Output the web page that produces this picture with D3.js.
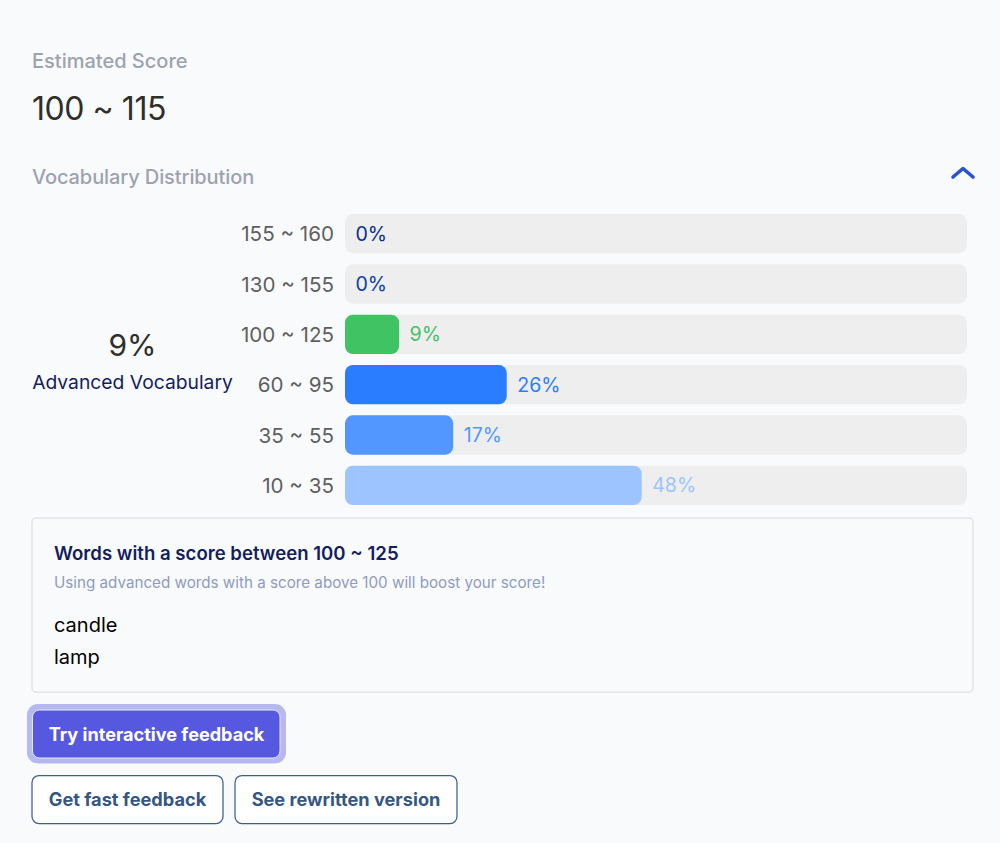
<!DOCTYPE html>
<html>
<head>
<meta charset="utf-8">
<script src="https://d3js.org/d3.v7.min.js"></script>
<style>
html, body { margin: 0; padding: 0; background: #f9fafc; }
svg { display: block; font-family: Inter, sans-serif; }
</style>
</head>
<body>
<div id="chart"></div>
<script>
const ranges = ["155 ~ 160", "130 ~ 155", "100 ~ 125", "60 ~ 95", "35 ~ 55", "10 ~ 35"];
const shares = [0, 0, 8.7, 26, 17.4, 47.7];
const percentLabels = ["0%", "0%", "9%", "26%", "17%", "48%"];
const barColors = ["#0a2f8a", "#0a3fa0", "#40c463", "#2a7dff", "#5297ff", "#9dc4ff"];
const words = ["candle", "lamp"];

const svg = d3.select("#chart").append("svg")
	.attr("width", 1000)
	.attr("height", 843);

const x = d3.scaleLinear().domain([0, 100]).range([345, 967]);
const y = d3.scaleBand().domain(ranges).range([214, 505]).paddingInner(0.218);

function label(txt, px, py, size, weight, color, anchor)
{
	return svg.append("text")
		.attr("x", px)
		.attr("y", py)
		.attr("font-size", size)
		.attr("font-weight", weight)
		.attr("fill", color)
		.attr("text-anchor", anchor || "start")
		.text(txt);
}

label("Estimated Score", 32, 68, 20, 500, "#9ca3af");
label("100 ~ 115", 32, 120, 32, 400, "#2f2f2a").attr("letter-spacing", -0.45);
label("Vocabulary Distribution", 32, 184, 20, 500, "#9ca3af").attr("letter-spacing", -0.1);

svg.append("path")
	.attr("d", d3.line()([[953, 177], [963, 168.5], [973, 177]]))
	.attr("fill", "none")
	.attr("stroke", "#2b52d4")
	.attr("stroke-width", 3.6)
	.attr("stroke-linecap", "round")
	.attr("stroke-linejoin", "round");

label("9%", 132.5, 356, 30, 400, "#2f2f2a", "middle");
label("Advanced Vocabulary", 132.5, 388.5, 19.3, 400, "#141e5c", "middle");

// tracks
svg.selectAll(".track")
	.data(ranges)
	.enter().append("rect")
	.attr("class", "track")
	.attr("x", x(0))
	.attr("y", d => y(d))
	.attr("width", x(100) - x(0))
	.attr("height", y.bandwidth())
	.attr("rx", 8)
	.attr("fill", "#eeeeee");

// bars
svg.selectAll(".bar")
	.data(shares.map((v, i) => ({ v, i })).filter(d => d.v > 0))
	.enter().append("rect")
	.attr("class", "bar")
	.attr("x", x(0))
	.attr("y", d => y(ranges[d.i]))
	.attr("width", d => x(d.v) - x(0))
	.attr("height", y.bandwidth())
	.attr("rx", 8)
	.attr("fill", d => barColors[d.i]);

// percent labels
svg.selectAll(".pct")
	.data(shares)
	.enter().append("text")
	.attr("class", "pct")
	.attr("x", d => x(d) + 10.5)
	.attr("y", (d, i) => y(ranges[i]) + y.bandwidth() / 2 + 7)
	.attr("font-size", 19.6)
	.attr("fill", (d, i) => barColors[i])
	.text((d, i) => percentLabels[i]);

// range labels
const yAxis = svg.append("g")
	.attr("transform", "translate(345,1)")
	.call(d3.axisLeft(y).tickSize(0).tickPadding(11));
yAxis.select(".domain").remove();
yAxis.selectAll("text")
	.attr("font-family", "Inter, sans-serif")
	.attr("font-size", 20.6)
	.attr("fill", "#5f5f5f");

// words box
svg.append("rect")
	.attr("x", 32)
	.attr("y", 518)
	.attr("width", 941)
	.attr("height", 174)
	.attr("rx", 4)
	.attr("fill", "#f9fafc")
	.attr("stroke", "#dcdfe4")
	.attr("stroke-width", 1.25);

label("Words with a score between 100 ~ 125", 54, 559.5, 18.6, 600, "#141e5c");
label("Using advanced words with a score above 100 will boost your score!", 54, 587.5, 15.2, 400, "#8f9bc0");

svg.selectAll(".word")
	.data(words)
	.enter().append("text")
	.attr("class", "word")
	.attr("x", 54)
	.attr("y", (d, i) => 631.5 + i * 32)
	.attr("font-size", 20)
	.attr("fill", "#000")
	.text(d => d);

// buttons
svg.append("rect")
	.attr("x", 27).attr("y", 704)
	.attr("width", 259).attr("height", 59.5)
	.attr("rx", 11)
	.attr("fill", "#b6b8f0");
svg.append("rect")
	.attr("x", 32.5).attr("y", 710)
	.attr("width", 247.5).attr("height", 48)
	.attr("rx", 7)
	.attr("fill", "#5659e0")
	.attr("stroke", "#e4e5fa")
	.attr("stroke-width", 1);
label("Try interactive feedback", 156.5, 741, 18.1, 700, "#ffffff", "middle");

const outlineButtons = [
	{ name: "Get fast feedback", left: 32, right: 223 },
	{ name: "See rewritten version", left: 235, right: 457 }
];
svg.selectAll(".btn")
	.data(outlineButtons)
	.enter().append("rect")
	.attr("class", "btn")
	.attr("x", d => d.left)
	.attr("y", 775.5)
	.attr("width", d => d.right - d.left)
	.attr("height", 48)
	.attr("rx", 7)
	.attr("fill", "#ffffff")
	.attr("stroke", "#3b5f8f")
	.attr("stroke-width", 1.25);
svg.selectAll(".btn-text")
	.data(outlineButtons)
	.enter().append("text")
	.attr("class", "btn-text")
	.attr("x", d => (d.left + d.right) / 2)
	.attr("y", 806)
	.attr("text-anchor", "middle")
	.attr("font-size", 18.2)
	.attr("font-weight", 700)
	.attr("fill", "#36577f")
	.text(d => d.name);
</script>
</body>
</html>
